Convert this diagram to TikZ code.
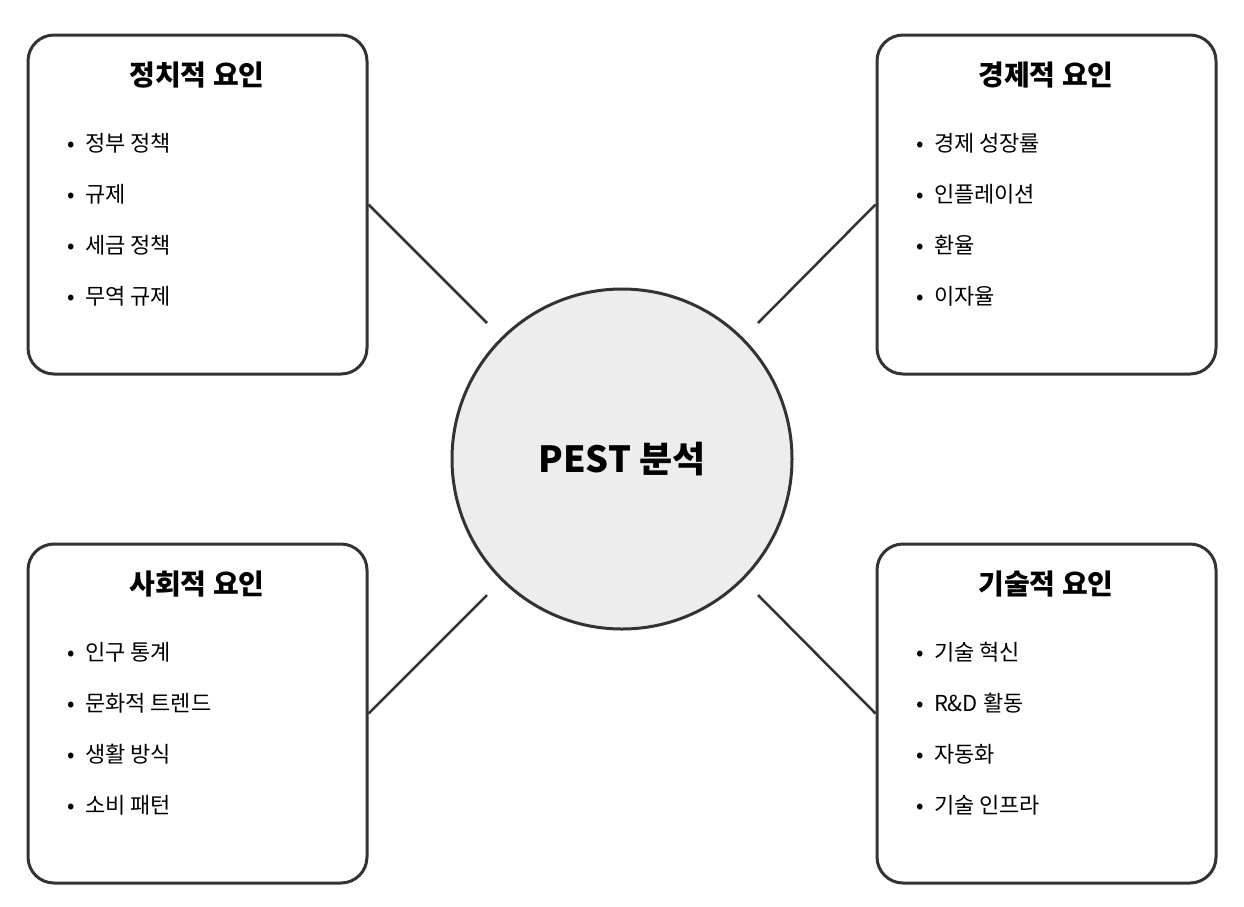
\documentclass[tikz,border=0pt]{standalone}
\usepackage{fontspec}
\setmainfont{Noto Sans CJK KR}
\begin{document}
\begin{tikzpicture}[x=1pt,y=-1pt,
  box/.style={draw=black!80,line width=3pt,rounded corners=26pt,minimum width=339pt,minimum height=339pt,fill=white},
  ttl/.style={font=\fontsize{28}{32}\selectfont\bfseries,anchor=center},
  item/.style={font=\fontsize{22}{26}\selectfont,anchor=west},
  link/.style={draw=black!80,line width=2.5pt}]
\useasboundingbox (0,0) rectangle (1244,906);
\node[box] (P) at (197.5,204.5) {};
\node[box] (E) at (1046.5,204.5) {};
\node[box] (S) at (197.5,713.5) {};
\node[box] (T) at (1046.5,713.5) {};
\node[circle,draw=black!80,line width=3pt,fill=black!7,minimum size=340pt,font=\fontsize{36}{40}\selectfont\bfseries] (C) at (622,459) {PEST 분석};
\coordinate (c1) at (487,323); \coordinate (c2) at (758,323);
\coordinate (c3) at (487,595); \coordinate (c4) at (758,595);
\draw[link] (P.east) -- (c1);
\draw[link] (E.west) -- (c2);
\draw[link] (S.east) -- (c3);
\draw[link] (T.west) -- (c4);
\node[ttl] (pt) at (197,75) {정치적 요인};
\node[ttl] (et) at (1046,75) {경제적 요인};
\node[ttl] (st) at (197,584) {사회적 요인};
\node[ttl] (tt) at (1046,584) {기술적 요인};
\foreach \t [count=\i] in {정부 정책,규제,세금 정책,무역 규제}
  \node[item] (p\i) at (64,143+51*\i-51) {•\hspace{10pt}\t};
\foreach \t [count=\i] in {경제 성장률,인플레이션,환율,이자율}
  \node[item] (e\i) at (913,143+51*\i-51) {•\hspace{10pt}\t};
\foreach \t [count=\i] in {인구 통계,문화적 트렌드,생활 방식,소비 패턴}
  \node[item] (s\i) at (64,652+51*\i-51) {•\hspace{10pt}\t};
\foreach \t [count=\i] in {기술 혁신,R\&D 활동,자동화,기술 인프라}
  \node[item] (t\i) at (913,652+51*\i-51) {•\hspace{10pt}\t};
\end{tikzpicture}
\end{document}
